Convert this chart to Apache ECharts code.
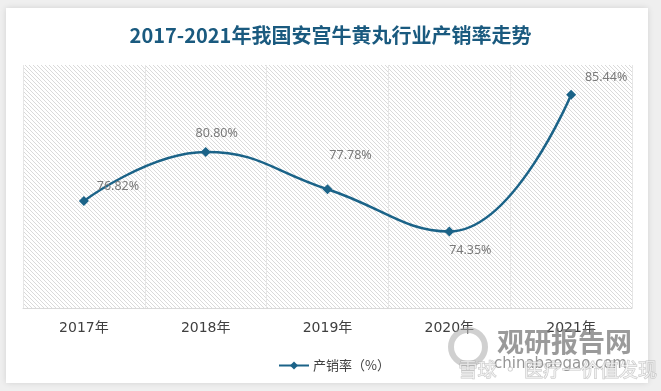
<!DOCTYPE html>
<html>
<head>
<meta charset="utf-8">
<script src="https://cdn.jsdelivr.net/npm/echarts@6/dist/echarts.min.js"></script>
<style>
html,body{margin:0;padding:0;background:#efefef;}
#c{width:661px;height:391px;}
</style>
</head>
<body>
<div id="c"></div>
<script>
var titleText = '2017-2021年我国安宫牛黄丸行业产销率走势';
var categories = ['2017年', '2018年', '2019年', '2020年', '2021年'];
var seriesName = '产销率（%）';
var salesRate = [76.82, 80.80, 77.78, 74.35, 85.44];

var labelOffsets = [[34, -15], [11, -19], [23, -34], [21, 19], [35, -17]];

function hatch() {
  var cv = document.createElement('canvas');
  cv.width = 4; cv.height = 4;
  var ctx = cv.getContext('2d');
  ctx.fillStyle = '#ffffff';
  ctx.fillRect(0, 0, 4, 4);
  ctx.strokeStyle = '#dadada';
  ctx.lineWidth = 1;
  ctx.beginPath();
  ctx.moveTo(-1, -1); ctx.lineTo(5, 5);
  ctx.moveTo(-1, 3); ctx.lineTo(1, 5);
  ctx.moveTo(3, -1); ctx.lineTo(5, 1);
  ctx.stroke();
  return cv;
}

var chart = echarts.init(document.getElementById('c'), null, {renderer: 'canvas'});
var lineColor = '#1b6388';

var data = salesRate.map(function (v, i) {
  return {
    value: v,
    label: {offset: labelOffsets[i]}
  };
});

chart.setOption({
  backgroundColor: '#efefef',
  animation: false,
  title: {
    text: titleText,
    left: 'center',
    top: 20,
    textStyle: {
      fontFamily: '"Noto Sans CJK SC"',
      fontSize: 20,
      fontWeight: 'bold',
      color: '#1a5a7f'
    }
  },
  graphic: [
    {
      type: 'rect',
      z: -10,
      shape: {x: 6, y: 8, width: 642, height: 375},
      style: {fill: '#ffffff', shadowBlur: 6, shadowColor: 'rgba(0,0,0,0.12)'}
    },
    {
      type: 'text', z: 100, left: 497, top: 328,
      style: {text: '观研报告网', fill: 'rgba(120,120,120,0.75)', font: 'bold 27px "Noto Sans CJK SC"'}
    },
    {
      type: 'text', z: 100, left: 494, top: 357,
      style: {text: 'chinabaogao.com', fill: 'rgba(60,60,60,0.55)', font: '15px "DejaVu Sans"'}
    },
    {
      type: 'text', z: 101, left: 458, top: 360,
      style: {text: '雪球 · 医疗一价值发现', fill: 'rgba(255,255,255,0.6)', stroke: 'rgba(160,160,160,0.6)', lineWidth: 1, font: '19px "Noto Sans CJK SC"'}
    },
    {
      type: 'circle', z: 100,
      shape: {cx: 468, cy: 347, r: 17},
      style: {fill: 'none', stroke: 'rgba(170,170,170,0.55)', lineWidth: 6}
    }
  ],
  legend: {
    data: [seriesName],
    left: 273,
    top: 354,
    itemWidth: 30,
    itemHeight: 10,
    itemGap: 10,
    textStyle: {
      fontFamily: '"Noto Sans CJK SC"',
      fontSize: 13,
      color: '#404040',
      padding: [0, 0, 0, -1]
    }
  },
  grid: {
    left: 23, right: 29, top: 65, bottom: 83,
    show: true,
    borderWidth: 0,
    backgroundColor: {image: hatch(), repeat: 'repeat'}
  },
  xAxis: {
    type: 'category',
    data: categories,
    boundaryGap: true,
    axisLine: {lineStyle: {color: '#d9d9d9', width: 1}},
    axisTick: {show: false},
    axisLabel: {
      margin: 13,
      fontFamily: '"DejaVu Sans", "Noto Sans CJK SC"',
      fontSize: 14,
      color: '#404040'
    },
    splitLine: {show: true, lineStyle: {color: '#e6e6e6', width: 1}}
  },
  yAxis: {
    type: 'value',
    min: 68.15,
    max: 87.85,
    show: false,
    splitLine: {show: false}
  },
  series: [{
    name: seriesName,
    type: 'line',
    smooth: 0.45,
    data: data,
    symbol: 'diamond',
    symbolSize: 10,
    lineStyle: {color: lineColor, width: 2.5},
    itemStyle: {color: lineColor},
    label: {
      show: true,
      position: 'inside',
      formatter: function (p) { return p.value.toFixed(2) + '%'; },
      fontFamily: '"Noto Sans"',
      fontSize: 12.5,
      color: '#7a7a7a'
    }
  }]
});
</script>
</body>
</html>
